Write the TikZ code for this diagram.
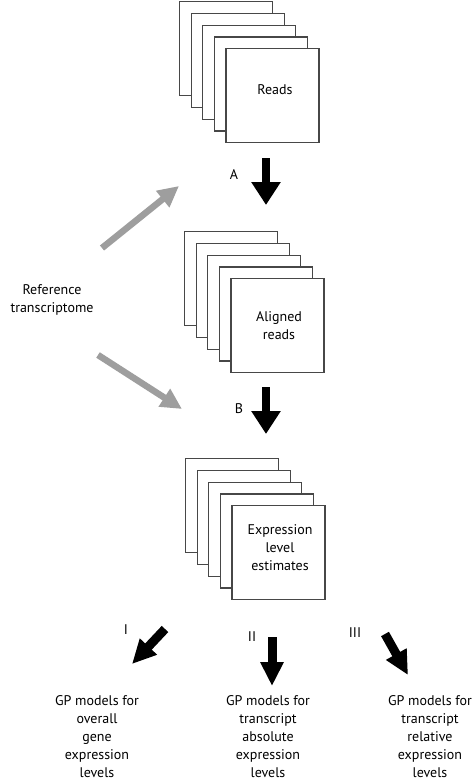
\documentclass[tikz,border=0pt]{standalone}
\usepackage{fontspec}
\setmainfont{PT Sans}
\usetikzlibrary{arrows.meta}

\begin{document}
\begin{tikzpicture}[
  x=1pt, y=-1pt,
  font=\fontsize{14}{18}\selectfont,
  sheet/.style={draw=black!72, line width=1.2pt, fill=white, minimum width=93pt, minimum height=94pt, anchor=north west, inner sep=0pt},
  txt/.style={align=center, inner sep=0pt},
  blk/.style={line width=8pt, -{Triangle[width=28pt,length=23pt]}},
  sml/.style={line width=9pt, -{Triangle[width=22pt,length=24pt]}},
  gry/.style={line width=6.5pt, draw=black!38, -{Triangle[width=20pt,length=21pt]}}
]
\useasboundingbox (0,0) rectangle (474,781);
% Stack 1: reads
\foreach \i in {0,...,4}
  \node[sheet] (rd\i) at ({179+11.6*\i},{1+11.8*\i}) {};
\node[txt] (reads) at (275,90) {Reads};
% Stack 2: aligned reads
\foreach \i in {0,...,4}
  \node[sheet] (al\i) at ({184+11.6*\i},{231+11.8*\i}) {};
\node[txt] (algn) at (279,326) {Aligned\\reads};
% Stack 3: expression estimates
\foreach \i in {0,...,4}
  \node[sheet] (ex\i) at ({185+11.6*\i},{458+11.8*\i}) {};
\node[txt] (estm) at (280,548) {Expression\\level\\estimates};
% Reference
\node[txt] (ref) at (52,300) {Reference\\transcriptome};
\coordinate (g1s) at (102,248);
\coordinate (g1e) at (179,186);
\coordinate (g2s) at (98,355);
\coordinate (g2e) at (182,409);
\draw[gry] (g1s) -- (g1e);
\draw[gry] (g2s) -- (g2e);
% Steps A and B
\coordinate (aS) at (266,158);
\coordinate (aE) at (266,205);
\coordinate (bS) at (266,387);
\coordinate (bE) at (266,434);
\draw[blk] (aS) -- (aE);
\draw[blk] (bS) -- (bE);
\node (la) at (234,175) {A};
\node (lb) at (239,409) {B};
% Models I, II, III
\coordinate (s1) at (165,629);
\coordinate (e1) at (132,664);
\coordinate (s2) at (272,637);
\coordinate (e2) at (272,686);
\coordinate (s3) at (385,634);
\coordinate (e3) at (408,675);
\draw[sml] (s1) -- (e1);
\draw[sml] (s2) -- (e2);
\draw[sml] (s3) -- (e3);
\node (l1) at (126,630) {I};
\node (l2) at (252,637) {II};
\node (l3) at (355,633) {III};
\node[txt] (gene) at (97,737) {GP models for\\overall\\gene\\expression\\levels};
\node[txt] (absl) at (268,737) {GP models for\\transcript\\absolute\\expression\\levels};
\node[txt] (relt) at (430,737) {GP models for\\transcript\\relative\\expression\\levels};
\end{tikzpicture}
\end{document}
